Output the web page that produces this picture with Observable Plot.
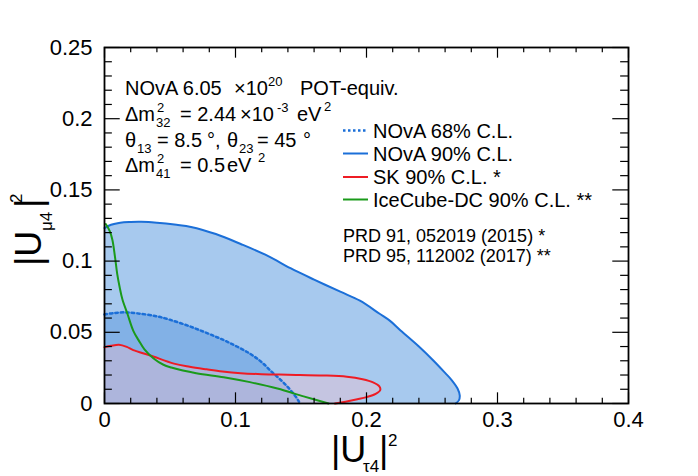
<!DOCTYPE html>
<html><head><meta charset="utf-8">
<script src="https://cdn.jsdelivr.net/npm/d3@7"></script>
<script src="https://cdn.jsdelivr.net/npm/@observablehq/plot@0.6"></script>
<style>body{margin:0;background:#fff} svg{display:block}</style>
</head><body><div id="chart"></div>
<script>
// ---- data ----
const nova90X = [0, 0.005, 0.012, 0.02, 0.028, 0.04, 0.055, 0.066, 0.085, 0.104, 0.125, 0.142, 0.16, 0.18, 0.195, 0.21, 0.218, 0.226, 0.24, 0.251, 0.26, 0.265, 0.2695, 0.2712, 0.2705, 0.268];
const nova90Y = [0.1232, 0.1255, 0.127, 0.1275, 0.1276, 0.127, 0.1255, 0.124, 0.119, 0.112, 0.1035, 0.095, 0.087, 0.0785, 0.0722, 0.063, 0.058, 0.0513, 0.040, 0.0302, 0.0215, 0.0165, 0.0105, 0.0055, 0.0022, 0];

const nova68X = [0, 0.007, 0.015, 0.025, 0.04, 0.05, 0.065, 0.08, 0.095, 0.111, 0.12, 0.127, 0.134, 0.14, 0.145, 0.148, 0.149];
const nova68Y = [0.0625, 0.0635, 0.064, 0.0633, 0.0612, 0.0588, 0.0542, 0.0488, 0.0428, 0.035, 0.029, 0.0228, 0.017, 0.0115, 0.006, 0.002, 0];

const skX = [0, 0.005, 0.011, 0.017, 0.022, 0.035, 0.053, 0.065, 0.078, 0.09, 0.104, 0.12, 0.14, 0.167, 0.185, 0.197, 0.205, 0.2098, 0.2105, 0.207, 0.2, 0.193, 0.184, 0.176];
const skY = [0.0395, 0.0405, 0.0413, 0.0398, 0.0375, 0.0337, 0.028, 0.0258, 0.024, 0.0225, 0.0213, 0.0206, 0.0202, 0.0197, 0.0188, 0.017, 0.0148, 0.012, 0.0095, 0.0068, 0.0045, 0.003, 0.0013, 0];

const icX = [0.001, 0.004, 0.006, 0.008, 0.0097, 0.0115, 0.0137, 0.0175, 0.022, 0.026, 0.0305, 0.0375, 0.045, 0.051, 0.07, 0.091, 0.111, 0.132, 0.152, 0.171];
const icY = [0.126, 0.121, 0.115, 0.103, 0.091, 0.082, 0.073, 0.063, 0.051, 0.0445, 0.038, 0.0316, 0.0272, 0.0253, 0.0213, 0.0185, 0.015, 0.0105, 0.005, 0];

const xMajor = [0, 0.1, 0.2, 0.3, 0.4];
const xTickLabels = ["0", "0.1", "0.2", "0.3", "0.4"];
const xMinor = [0.02, 0.04, 0.06, 0.08, 0.12, 0.14, 0.16, 0.18, 0.22, 0.24, 0.26, 0.28, 0.32, 0.34, 0.36, 0.38];
const yMajor = [0, 0.05, 0.1, 0.15, 0.2, 0.25];
const yTickLabels = ["0", "0.05", "0.1", "0.15", "0.2", "0.25"];
const yMinor = [0.01, 0.02, 0.03, 0.04, 0.06, 0.07, 0.08, 0.09, 0.11, 0.12, 0.13, 0.14, 0.16, 0.17, 0.18, 0.19, 0.21, 0.22, 0.23, 0.24];

const legendLabels = ["NOvA 68% C.L.", "NOvA 90% C.L.", "SK 90% C.L. *", "IceCube-DC 90% C.L. **"];
const refLabels = ["PRD 91, 052019 (2015) *", "PRD 95, 112002 (2017) **"];

// ---- styles ----
const BLUE = "#1b6fd8", RED = "#ee1c24", GREEN = "#1a9a1a";
const FILL90 = "#a7c9ee", FILL68 = "#82b1e6", FILLSK = "rgb(255,190,200)";
const legendColors = [BLUE, BLUE, RED, GREEN];
const legendDash = ["2.5,2.5", null, null, null];
const FONT = "'Liberation Sans', Arial, Helvetica, sans-serif";

const pts = (X, Y) => X.map((x, i) => ({x, y: Y[i]}));
const nova90 = pts(nova90X, nova90Y);
const nova68 = pts(nova68X, nova68Y);
const sk = pts(skX, skY);
const ice = pts(icX, icY);

const XT = 0.0075, XTm = 0.00375; // x-axis tick length (in y units)
const YT = 0.012, YTm = 0.006;    // y-axis tick length (in x units)

const chart = Plot.plot({
  width: 698, height: 476,
  marginLeft: 104, marginRight: 70, marginTop: 47, marginBottom: 73,
  x: {domain: [0, 0.4]},
  y: {domain: [0, 0.25]},
  style: {fontFamily: FONT, fontSize: "22px", background: "white", color: "black", overflow: "visible"},
  marks: [
    Plot.area(nova90, {x1: "x", y1: "y", x2: "x", y2: 0, fill: FILL90, curve: "catmull-rom"}),
    Plot.area(nova68, {x1: "x", y1: "y", x2: "x", y2: 0, fill: FILL68, curve: "catmull-rom"}),
    Plot.area(sk, {x1: "x", y1: "y", x2: "x", y2: 0, fill: FILLSK, fillOpacity: 0.35, curve: "catmull-rom"}),
    Plot.line(nova90, {x: "x", y: "y", stroke: BLUE, strokeWidth: 2, curve: "catmull-rom"}),
    Plot.line(nova68, {x: "x", y: "y", stroke: BLUE, strokeWidth: 2.5, strokeDasharray: "2.5,3", curve: "catmull-rom"}),
    Plot.line(sk, {x: "x", y: "y", stroke: RED, strokeWidth: 2, curve: "catmull-rom"}),
    Plot.line(ice, {x: "x", y: "y", stroke: GREEN, strokeWidth: 2, curve: "catmull-rom"}),
    // inward ticks, bottom / top
    Plot.ruleX(xMajor, {x: d => d, y1: 0, y2: XT, stroke: "black", strokeWidth: 1.2}),
    Plot.ruleX(xMinor, {x: d => d, y1: 0, y2: XTm, stroke: "black", strokeWidth: 1.2}),
    Plot.ruleX(xMajor, {x: d => d, y1: 0.25 - XT, y2: 0.25, stroke: "black", strokeWidth: 1.2}),
    Plot.ruleX(xMinor, {x: d => d, y1: 0.25 - XTm, y2: 0.25, stroke: "black", strokeWidth: 1.2}),
    // inward ticks, left / right
    Plot.ruleY(yMajor, {y: d => d, x1: 0, x2: YT, stroke: "black", strokeWidth: 1.2}),
    Plot.ruleY(yMinor, {y: d => d, x1: 0, x2: YTm, stroke: "black", strokeWidth: 1.2}),
    Plot.ruleY(yMajor, {y: d => d, x1: 0.4 - YT, x2: 0.4, stroke: "black", strokeWidth: 1.2}),
    Plot.ruleY(yMinor, {y: d => d, x1: 0.4 - YTm, x2: 0.4, stroke: "black", strokeWidth: 1.2}),
    Plot.frame({stroke: "black", strokeWidth: 1.8}),
    Plot.axisX(xMajor, {tickSize: 0, tickPadding: 8, label: null, fontSize: 22,
      tickFormat: d => xTickLabels[xMajor.indexOf(d)]}),
    Plot.axisY(yMajor, {tickSize: 0, tickPadding: 12, label: null, fontSize: 22,
      tickFormat: d => yTickLabels[yMajor.indexOf(d)]})
  ]
});
document.getElementById("chart").appendChild(chart);

// ---- annotations (real text) ----
const svg = d3.select(chart);
const g = svg.append("g").attr("font-family", FONT).attr("fill", "black").attr("text-anchor", "start");

function rich(parent, segs) {
  const t = parent.append("text").attr("text-anchor", "start");
  for (const s of segs) {
    t.append("tspan").attr("x", s.x).attr("y", s.y).attr("font-size", s.size || 20).text(s.t);
  }
  return t;
}

// info block
rich(g, [
  {t: "NOvA 6.05", x: 125, y: 95},
  {t: "×10", x: 234, y: 95},
  {t: "20", x: 268, y: 86, size: 13},
  {t: "POT-equiv.", x: 300, y: 95}
]);
rich(g, [
  {t: "Δm", x: 125, y: 121},
  {t: "2", x: 157, y: 112, size: 13},
  {t: "32", x: 156, y: 127, size: 13},
  {t: "= 2.44", x: 180, y: 121},
  {t: "×10", x: 240, y: 121},
  {t: "-3", x: 277, y: 112, size: 13},
  {t: "eV", x: 297, y: 121},
  {t: "2", x: 324, y: 111, size: 13}
]);
rich(g, [
  {t: "θ", x: 125, y: 147},
  {t: "13", x: 137, y: 153, size: 13},
  {t: "= 8.5", x: 157, y: 147},
  {t: "°,", x: 207, y: 147},
  {t: "θ", x: 227, y: 147},
  {t: "23", x: 239, y: 153, size: 13},
  {t: "= 45", x: 257, y: 147},
  {t: "°", x: 303, y: 147}
]);
rich(g, [
  {t: "Δm", x: 125, y: 172},
  {t: "2", x: 157, y: 163, size: 13},
  {t: "41", x: 156, y: 178, size: 13},
  {t: "= 0.5", x: 180, y: 172},
  {t: "eV", x: 227, y: 172},
  {t: "2", x: 258, y: 162, size: 13}
]);

// legend
const legRows = [130.5, 153.5, 177, 199.5];
legendLabels.forEach((lab, i) => {
  const ln = g.append("line").attr("x1", 343).attr("x2", 368)
    .attr("y1", legRows[i]).attr("y2", legRows[i])
    .attr("stroke", legendColors[i]).attr("stroke-width", legendDash[i] ? 2.5 : 2);
  if (legendDash[i]) ln.attr("stroke-dasharray", legendDash[i]);
  g.append("text").attr("x", 373).attr("y", legRows[i] + 7).attr("font-size", 20).text(lab);
});
refLabels.forEach((lab, i) => {
  g.append("text").attr("x", 343).attr("y", 241.5 + i * 20.5).attr("font-size", 18).text(lab);
});

// axis titles
rich(g, [
  {t: "|U", x: 331, y: 462, size: 36},
  {t: "τ4", x: 363, y: 472, size: 17},
  {t: "|", x: 379, y: 462, size: 36},
  {t: "2", x: 388, y: 446, size: 17}
]);
const gy = g.append("g").attr("transform", "rotate(-90)");
rich(gy, [
  {t: "|U", x: -266, y: 41, size: 36},
  {t: "μ4", x: -231, y: 52, size: 17},
  {t: "|", x: -208, y: 41, size: 36},
  {t: "2", x: -203, y: 22, size: 17}
]);
</script>
</body></html>
